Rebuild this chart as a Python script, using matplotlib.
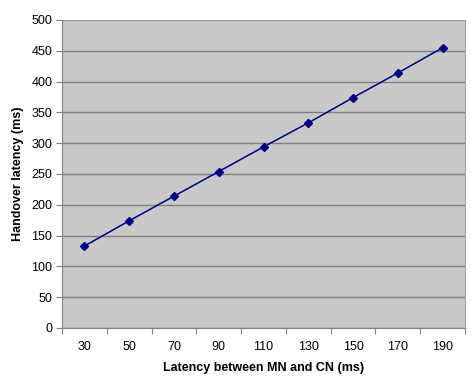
import matplotlib
matplotlib.use("Agg")
import matplotlib.pyplot as plt
import numpy as np

plt.rcParams['font.family'] = ['Liberation Sans', 'DejaVu Sans']

# data
mn_cn_latency = [30, 50, 70, 90, 110, 130, 150, 170, 190]
handover_latency = [133, 174, 214, 254, 294, 333, 374, 414, 455]

fig = plt.figure(figsize=(4.74, 3.9), dpi=100)
ax = fig.add_axes([62/474, 62/390, (465-62)/474, (328-20)/390])
ax.set_facecolor('#c9c9c9')

pos = np.arange(len(mn_cn_latency))
ax.plot(pos, handover_latency, color='#000080', lw=1.1, marker='D', ms=4.2,
        mfc='#000080', mec='#000080', zorder=3)

ax.set_xlim(-0.5, len(pos) - 0.5)
ax.set_ylim(0, 500)
ax.set_yticks(range(0, 501, 50))
ax.yaxis.grid(True, color='#808080', lw=1)
ax.set_axisbelow(True)

# category ticks between categories, labels at centers
ax.set_xticks(np.arange(-0.5, len(pos), 1.0))
ax.set_xticklabels([])
ax.set_xticks(pos, minor=True)
ax.set_xticklabels([str(v) for v in mn_cn_latency], minor=True)
ax.tick_params(axis='x', which='minor', length=0, pad=9, labelsize=9)
ax.tick_params(axis='x', which='major', length=4, color='#808080')
ax.tick_params(axis='y', length=4, color='#808080', labelsize=9, pad=3)

for side in ['left', 'bottom']:
    ax.spines[side].set_color('#808080')
for side in ['top', 'right']:
    ax.spines[side].set_color('#a0a0a0')

ax.set_xlabel('Latency between MN and CN (ms)', fontsize=9, fontweight='bold', labelpad=7)
ax.set_ylabel('Handover latency (ms)', fontsize=9, fontweight='bold', labelpad=5)

fig.savefig('out.png', dpi=100)
